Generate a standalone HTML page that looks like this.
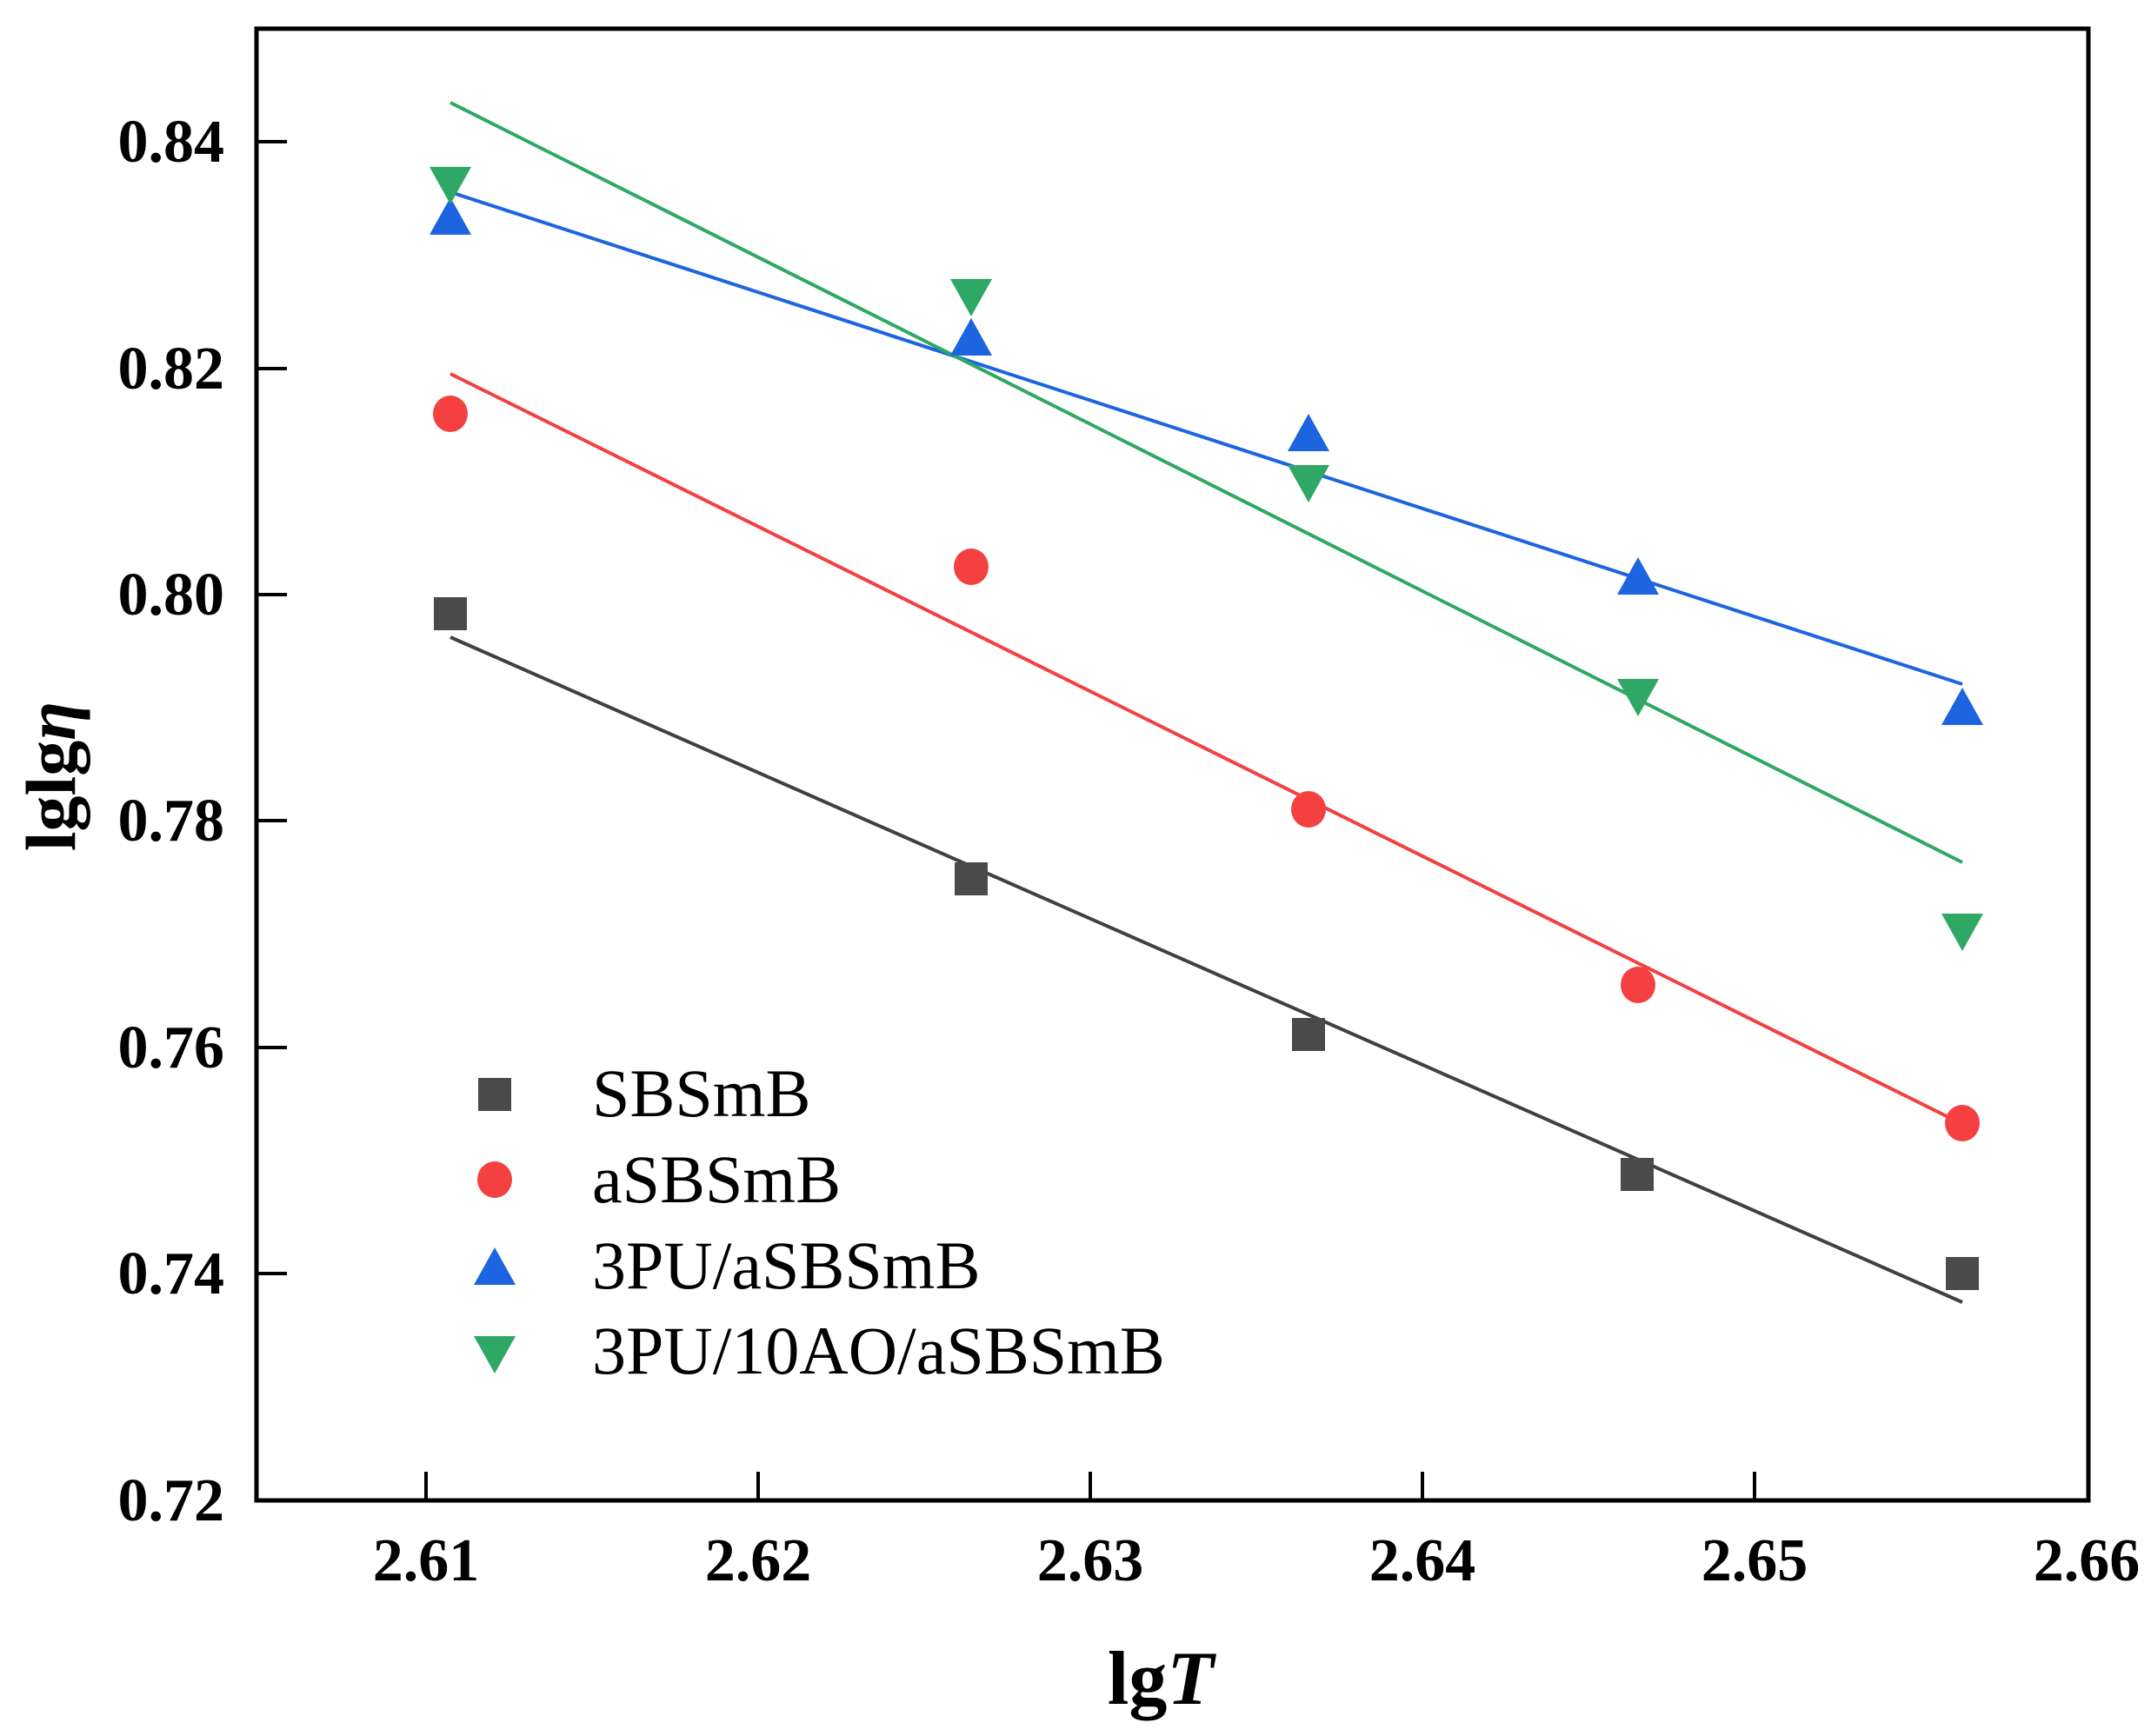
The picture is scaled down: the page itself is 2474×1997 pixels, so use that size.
<!DOCTYPE html>
<html><head><meta charset="utf-8"><style>
html,body{margin:0;padding:0;background:#fff;}
svg{display:block;}
text{font-family:"Liberation Serif","DejaVu Serif",serif;}
</style></head><body>
<svg width="2474" height="1997" viewBox="0 0 2474 1997" xmlns="http://www.w3.org/2000/svg">
<rect width="2474" height="1997" fill="#fff"/>
<!-- fit lines -->
<g stroke-width="4" fill="none">
<line x1="518" y1="733" x2="2257" y2="1498" stroke="#404040"/>
<line x1="518" y1="430" x2="2257" y2="1293" stroke="#f44040"/>
<line x1="518" y1="221" x2="2257" y2="787" stroke="#1c64e0"/>
<line x1="518" y1="118" x2="2257" y2="992" stroke="#2ea864"/>
</g>
<!-- SBSmB squares -->
<g fill="#4a4a4a">
<rect x="499" y="687" width="38" height="38"/>
<rect x="1098" y="992" width="38" height="38"/>
<rect x="1486" y="1171" width="38" height="38"/>
<rect x="1864" y="1332" width="38" height="38"/>
<rect x="2238" y="1446" width="38" height="38"/>
</g>
<!-- aSBSmB circles -->
<g fill="#f44040">
<ellipse cx="518" cy="476" rx="20" ry="21"/>
<ellipse cx="1117" cy="652" rx="20" ry="21"/>
<ellipse cx="1505" cy="931" rx="20" ry="21"/>
<ellipse cx="1884" cy="1133" rx="20" ry="21"/>
<ellipse cx="2257" cy="1292" rx="20" ry="21"/>
</g>
<!-- 3PU/aSBSmB up triangles -->
<g fill="#1c64e0">
<polygon points="518,227 542,270 494,270"/>
<polygon points="1117,366 1141,409 1093,409"/>
<polygon points="1505,476 1529,519 1481,519"/>
<polygon points="1884,641 1908,684 1860,684"/>
<polygon points="2257,791 2281,834 2233,834"/>
</g>
<!-- 3PU/10AO down triangles -->
<g fill="#2ea864">
<polygon points="494,192 542,192 518,235"/>
<polygon points="1093,321 1141,321 1117,364"/>
<polygon points="1481,535 1529,535 1505,578"/>
<polygon points="1860,781 1908,781 1884,824"/>
<polygon points="2233,1051 2281,1051 2257,1094"/>
</g>
<!-- axes -->
<rect x="295" y="33" width="2107" height="1693" fill="none" stroke="#000" stroke-width="5"/>
<g stroke="#000" stroke-width="4">
<line x1="295" y1="163" x2="330" y2="163"/>
<line x1="295" y1="424" x2="330" y2="424"/>
<line x1="295" y1="684" x2="330" y2="684"/>
<line x1="295" y1="944" x2="330" y2="944"/>
<line x1="295" y1="1205" x2="330" y2="1205"/>
<line x1="295" y1="1465" x2="330" y2="1465"/>
<line x1="490" y1="1726" x2="490" y2="1693"/>
<line x1="872" y1="1726" x2="872" y2="1693"/>
<line x1="1254" y1="1726" x2="1254" y2="1693"/>
<line x1="1636" y1="1726" x2="1636" y2="1693"/>
<line x1="2018" y1="1726" x2="2018" y2="1693"/>
</g>
<g font-size="70" font-weight="bold" text-anchor="end" fill="#000">
<text x="258" y="186">0.84</text>
<text x="258" y="447">0.82</text>
<text x="258" y="707">0.80</text>
<text x="258" y="967">0.78</text>
<text x="258" y="1228">0.76</text>
<text x="258" y="1488">0.74</text>
<text x="258" y="1749">0.72</text>
</g>
<g font-size="70" font-weight="bold" text-anchor="middle" fill="#000">
<text x="490" y="1818">2.61</text>
<text x="872" y="1818">2.62</text>
<text x="1254" y="1818">2.63</text>
<text x="1636" y="1818">2.64</text>
<text x="2018" y="1818">2.65</text>
<text x="2400" y="1818">2.66</text>
</g>
<text x="1335" y="1960" font-size="88" font-weight="bold" text-anchor="middle">lg<tspan font-style="italic">T</tspan></text>
<text transform="translate(86,893) rotate(-90)" font-size="82" font-weight="bold" text-anchor="middle">lglg<tspan font-style="italic">η</tspan></text>
<!-- legend -->
<rect x="550" y="1240" width="38" height="38" fill="#4a4a4a"/>
<ellipse cx="569" cy="1357" rx="20" ry="21" fill="#f44040"/>
<polygon points="569,1435 593,1478 545,1478" fill="#1c64e0"/>
<polygon points="545,1537 593,1537 569,1580" fill="#2ea864"/>
<g font-size="78" fill="#000">
<text x="681" y="1284">SBSmB</text>
<text x="681" y="1383">aSBSmB</text>
<text x="681" y="1482">3PU/aSBSmB</text>
<text x="681" y="1580">3PU/10AO/aSBSmB</text>
</g>
</svg>
</body></html>
